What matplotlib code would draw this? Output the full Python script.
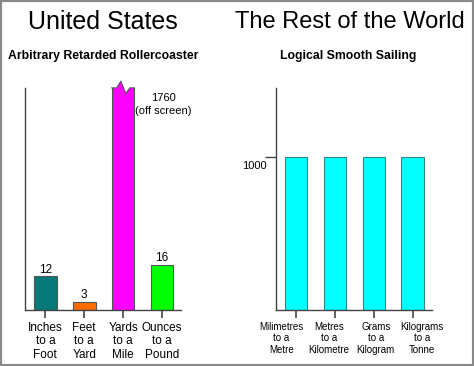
import matplotlib.pyplot as plt
from matplotlib.patches import Polygon, Rectangle
import matplotlib.transforms as mtransforms

plt.rcParams['font.family'] = ['Liberation Sans', 'DejaVu Sans']

us_labels = ['Inches\nto a\nFoot', 'Feet\nto a\nYard', 'Yards\nto a\nMile', 'Ounces\nto a\nPound']
us_values = [12, 3, 1760, 16]
us_colors = ['#067a7a', '#ff6a00', '#ff00ff', '#00ff00']
us_ylim = 79

world_labels = ['Milimetres\nto a\nMetre', 'Metres\nto a\nKilometre', 'Grams\nto a\nKilogram', 'Kilograms\nto a\nTonne']
world_values = [1000, 1000, 1000, 1000]
world_label_shift = [-0.38, -0.15, 0.05, 0.23]   # labels sit a little off their ticks
world_ylim = 1450

fig = plt.figure(figsize=(4.74, 3.66), dpi=100)
axL = fig.add_axes([0.053, 0.153, 0.329, 0.607])
axR = fig.add_axes([0.582, 0.153, 0.329, 0.607])

edge = '#555555'

def style(ax):
    for s in ['top', 'right']:
        ax.spines[s].set_visible(False)
    for s in ['left', 'bottom']:
        ax.spines[s].set_color('#444444')
        ax.spines[s].set_linewidth(1.0)
    ax.set_xlim(-0.52, 3.49)
    ax.tick_params(axis='x', direction='out', length=5.5, width=1.2, color='#444444', pad=3)

# United States
x = list(range(len(us_values)))
axL.bar(x, us_values, width=0.58, color=us_colors, edgecolor=edge, linewidth=0.8)
axL.set_ylim(0, us_ylim)
style(axL)
axL.set_yticks([])
axL.set_xticks(x)
axL.set_xticklabels(us_labels, fontsize=8.5, linespacing=1.15)
trans = mtransforms.blended_transform_factory(axL.transData, axL.transAxes)
for i, v in enumerate(us_values):
    if v > us_ylim:
        w = 0.58
        l = i - w / 2
        # torn top for the off-screen bar
        path = [(l, 1.0), (l + w * 0.22, 1.0), (l + w * 0.4, 1.03),
                (l + w * 0.62, 0.975), (l + w * 0.8, 1.0), (l + w, 1.0)]
        axL.add_patch(Polygon([path[1], path[2], path[3]], closed=True, transform=trans,
                              facecolor=us_colors[i], edgecolor='none', clip_on=False))
        axL.add_patch(Polygon([(l + w * 0.5, 1.001), path[3], path[4]], closed=True,
                              transform=trans, facecolor='white', edgecolor='none',
                              clip_on=False, zorder=3))
        axL.plot([p[0] for p in path], [p[1] for p in path], color=edge, lw=0.8,
                 transform=trans, clip_on=False, zorder=4)
        axL.text(i + 1.04, 0.925, f'{v}\n(off screen)', transform=trans, ha='center',
                 va='center', fontsize=8, linespacing=1.45)
    else:
        axL.annotate(str(v), xy=(i, v), xytext=(0, 0.5), textcoords='offset points',
                     ha='center', va='bottom', fontsize=8.5)

# Rest of the World
x = list(range(len(world_values)))
axR.bar(x, world_values, width=0.58, color='#00ffff', edgecolor='#2a8a8a', linewidth=0.8)
axR.set_ylim(0, world_ylim)
style(axR)
axR.set_yticks([1000])
axR.set_yticklabels([''])
axR.tick_params(axis='y', direction='out', length=8, width=1, color='#444444')
axR.annotate('1000', xy=(0, 1000), xycoords=('axes fraction', 'data'), xytext=(-6.5, -6.5),
             textcoords='offset points', ha='right', va='center', fontsize=8)
axR.set_xticks(x)
axR.set_xticklabels([''] * len(x))
for i, (lab, s) in enumerate(zip(world_labels, world_label_shift)):
    axR.annotate(lab, xy=(i + s, 0), xycoords=('data', 'axes fraction'), xytext=(0, -8.5),
                 textcoords='offset points', ha='center', va='top', fontsize=7,
                 linespacing=1.2, annotation_clip=False)

# titles
fig.text(0.218, 0.94, 'United States', ha='center', va='center', fontsize=18)
fig.text(0.738, 0.94, 'The Rest of the World', ha='center', va='center', fontsize=17)
fig.text(0.218, 0.848, 'Arbitrary Retarded Rollercoaster', ha='center', va='center',
         fontsize=8.8, fontweight='bold')
fig.text(0.735, 0.848, 'Logical Smooth Sailing', ha='center', va='center',
         fontsize=8.8, fontweight='bold')

# gray frame around picture
fig.patches.append(Rectangle((0, 0), 1, 1, transform=fig.transFigure, fill=False,
                             edgecolor='#8a8a8a', linewidth=3))

fig.savefig('out.png', dpi=100)
